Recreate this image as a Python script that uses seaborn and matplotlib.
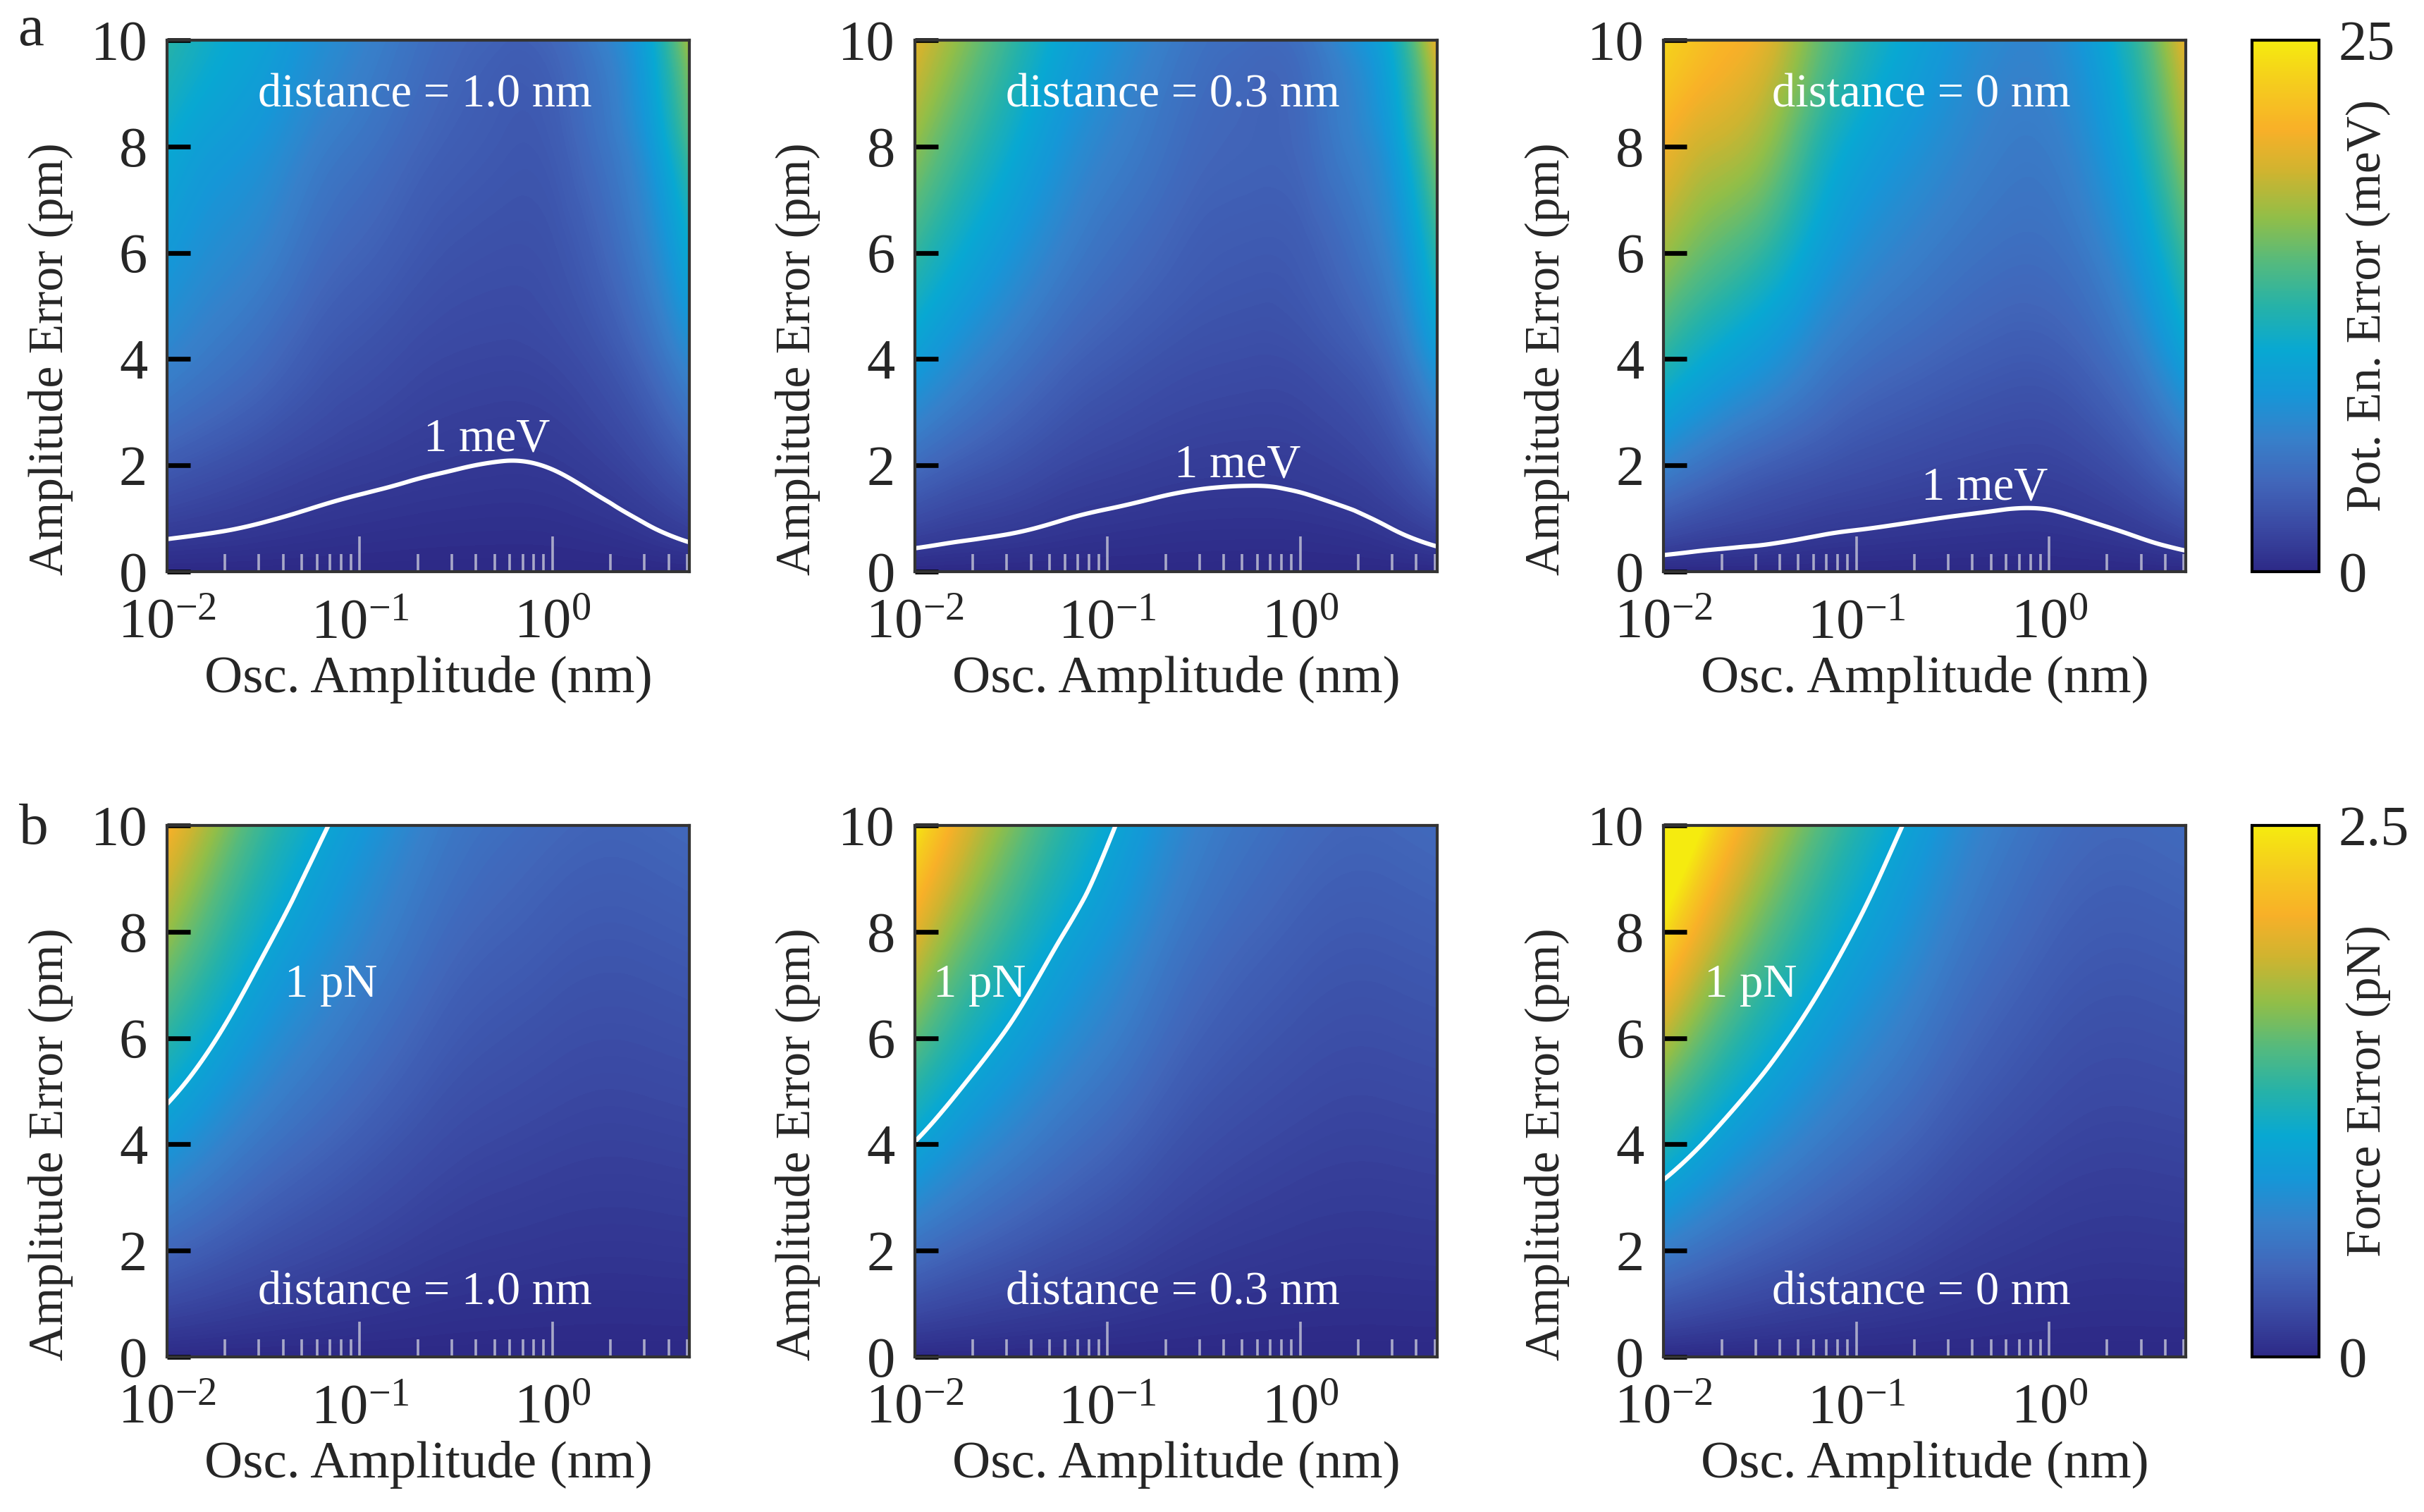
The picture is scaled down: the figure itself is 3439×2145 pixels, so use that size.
import numpy as np
import matplotlib
matplotlib.use("Agg")
import matplotlib.pyplot as plt
import matplotlib.tri as mtri
from matplotlib.ticker import LogLocator, LogFormatterMathtext, NullFormatter
import seaborn as sns

sns.set_theme(style="ticks")
plt.rcParams['font.family'] = ['Liberation Serif', 'DejaVu Serif']
plt.rcParams['mathtext.fontset'] = 'custom'
plt.rcParams['mathtext.rm'] = 'Liberation Serif'
plt.rcParams['mathtext.it'] = 'Liberation Serif:italic'
plt.rcParams['axes.unicode_minus'] = False

# sample grid
osc_amp_nm = [0.01, 0.0178, 0.0316, 0.0562, 0.1, 0.178, 0.316, 0.562, 1.0, 1.78, 3.16, 5.13]
amp_err_pm = [0, 1, 2, 4, 6, 8, 10]

# potential energy error (meV), rows = amp_err_pm, cols = osc_amp_nm
energy_d10 = [
    [0] * 12,
    [1.64, 1.35, 1.075, 0.847, 0.694, 0.588, 0.518, 0.481, 0.521, 0.714, 1.15, 1.79],
    [3.4, 2.75, 2.18, 1.7, 1.39, 1.18, 1.04, 0.96, 1.04, 1.43, 2.28, 3.5],
    [6.6, 5.5, 4.5, 3.4, 2.75, 2.25, 1.95, 1.85, 2.05, 2.8, 4.5, 7.0],
    [8.7, 7.4, 6.4, 4.9, 4.0, 3.3, 2.8, 2.6, 2.8, 4.0, 6.5, 10.4],
    [10.5, 9.0, 8.0, 6.4, 5.3, 4.3, 3.6, 3.2, 3.4, 5.1, 8.3, 13.8],
    [12.5, 10.8, 9.6, 7.9, 6.6, 5.3, 4.3, 3.8, 4.2, 6.2, 10.0, 17.2],
]
energy_d03 = [
    [0] * 12,
    [2.27, 1.72, 1.39, 1.05, 0.85, 0.72, 0.64, 0.617, 0.66, 0.83, 1.32, 2.13],
    [4.6, 3.5, 2.78, 2.1, 1.7, 1.44, 1.28, 1.23, 1.32, 1.66, 2.6, 4.3],
    [9.2, 7.1, 5.5, 4.2, 3.4, 2.85, 2.5, 2.35, 2.5, 3.2, 5.0, 8.6],
    [13.0, 10.4, 8.2, 6.3, 5.0, 4.15, 3.5, 3.3, 3.5, 4.7, 7.2, 12.6],
    [16.5, 13.4, 10.7, 8.2, 6.5, 5.3, 4.3, 4.0, 4.3, 6.1, 9.3, 16.4],
    [19.5, 16.2, 13.0, 10.1, 8.0, 6.4, 5.1, 4.6, 5.0, 7.5, 11.5, 20.0],
]
energy_d00 = [
    [0] * 12,
    [3.2, 2.4, 1.92, 1.54, 1.28, 1.1, 0.96, 0.86, 0.855, 1.11, 1.67, 2.5],
    [6.5, 4.9, 3.8, 3.1, 2.56, 2.2, 1.92, 1.72, 1.71, 2.2, 3.3, 4.9],
    [12.5, 10.2, 8.5, 6.6, 5.1, 4.35, 3.8, 3.4, 3.4, 4.3, 6.4, 9.5],
    [17.0, 14.8, 13.0, 10.0, 7.6, 6.4, 5.5, 4.9, 4.9, 6.2, 9.2, 13.5],
    [20.5, 18.5, 17.0, 13.2, 10.0, 8.3, 7.0, 6.0, 6.0, 7.9, 11.8, 17.0],
    [23.5, 21.5, 20.0, 16.0, 12.5, 10.2, 8.3, 7.0, 7.0, 9.5, 14.0, 20.0],
]

# force error (pN)
force_d10 = [
    [0] * 12,
    [0.21, 0.168, 0.1325, 0.1075, 0.087, 0.069, 0.055, 0.048, 0.043, 0.040, 0.041, 0.043],
    [0.42, 0.336, 0.265, 0.215, 0.174, 0.138, 0.11, 0.096, 0.086, 0.08, 0.082, 0.086],
    [0.84, 0.672, 0.53, 0.43, 0.348, 0.276, 0.22, 0.192, 0.172, 0.16, 0.164, 0.172],
    [1.26, 1.008, 0.795, 0.645, 0.522, 0.414, 0.33, 0.288, 0.258, 0.24, 0.246, 0.258],
    [1.68, 1.344, 1.06, 0.86, 0.696, 0.552, 0.44, 0.384, 0.344, 0.32, 0.328, 0.344],
    [2.1, 1.68, 1.325, 1.075, 0.87, 0.69, 0.55, 0.48, 0.43, 0.40, 0.41, 0.43],
]
force_d03 = [
    [0] * 12,
    [0.247, 0.196, 0.159, 0.128, 0.104, 0.08, 0.062, 0.052, 0.045, 0.041, 0.042, 0.044],
    [0.494, 0.392, 0.318, 0.256, 0.208, 0.16, 0.124, 0.104, 0.09, 0.082, 0.084, 0.088],
    [0.988, 0.784, 0.636, 0.512, 0.416, 0.32, 0.248, 0.208, 0.18, 0.164, 0.168, 0.176],
    [1.482, 1.176, 0.954, 0.768, 0.624, 0.48, 0.372, 0.312, 0.27, 0.246, 0.252, 0.264],
    [1.976, 1.568, 1.272, 1.024, 0.832, 0.64, 0.496, 0.416, 0.36, 0.328, 0.336, 0.352],
    [2.47, 1.96, 1.59, 1.28, 1.04, 0.8, 0.62, 0.52, 0.45, 0.41, 0.42, 0.44],
]
force_d00 = [
    [0] * 12,
    [0.30, 0.238, 0.19, 0.153, 0.123, 0.099, 0.076, 0.06, 0.049, 0.043, 0.043, 0.045],
    [0.6, 0.476, 0.38, 0.306, 0.246, 0.198, 0.152, 0.12, 0.098, 0.086, 0.086, 0.09],
    [1.2, 0.952, 0.76, 0.612, 0.492, 0.396, 0.304, 0.24, 0.196, 0.172, 0.172, 0.18],
    [1.8, 1.428, 1.14, 0.918, 0.738, 0.594, 0.456, 0.36, 0.294, 0.258, 0.258, 0.27],
    [2.4, 1.904, 1.52, 1.224, 0.984, 0.792, 0.608, 0.48, 0.392, 0.344, 0.344, 0.36],
    [3.0, 2.38, 1.9, 1.53, 1.23, 0.99, 0.76, 0.6, 0.49, 0.43, 0.43, 0.45],
]

distances = ["1.0", "0.3", "0"]
energy_max = 25
force_max = 2.5

# parula-ish colours as they look in the original colorbar
cbar_colors = [
    (45, 42, 135), (58, 73, 163), (65, 102, 186), (55, 128, 202),
    (22, 150, 215), (8, 168, 210), (38, 178, 168), (85, 186, 125),
    (145, 190, 72), (205, 180, 48), (248, 176, 40), (245, 203, 30),
    (245, 235, 15),
]
cmap = sns.blend_palette([tuple(c / 255 for c in rgb) for rgb in cbar_colors],
                         n_colors=256, as_cmap=True)

TICK_FS = 29
XLABEL_FS = 27
YLABEL_FS = 25
NOTE_FS = 24
XSTRETCH = 4  # decades -> mesh units, keeps triangles roughly square


def heat_panel(ax, grid, vmax, tag, tag_pos, dist, dist_y):
    lx, ly = np.meshgrid(np.log10(osc_amp_nm) * XSTRETCH, amp_err_pm)
    z = np.asarray(grid, dtype=float).ravel()
    tri = mtri.Triangulation(lx.ravel(), ly.ravel())
    interp = mtri.CubicTriInterpolator(tri, z, kind='min_E')
    fine, zf = mtri.UniformTriRefiner(tri).refine_field(z, interp, subdiv=4)
    fine = mtri.Triangulation(10 ** (fine.x / XSTRETCH), fine.y, fine.triangles)
    ax.tricontourf(fine, zf, levels=np.linspace(0, vmax, 200), cmap=cmap,
                   extend='both', antialiased=False, zorder=0.5)
    ax.tricontour(fine, zf, levels=[1], colors='white', linewidths=2.2, zorder=0.6)

    ax.set_xscale('log')
    ax.set_xlim(0.01, 5.13)
    ax.set_ylim(0, 10)
    ax.set_yticks([0, 2, 4, 6, 8, 10])
    ax.xaxis.set_major_locator(LogLocator(base=10, numticks=10))
    ax.xaxis.set_minor_locator(LogLocator(base=10, subs=np.arange(2, 10), numticks=30))
    ax.xaxis.set_major_formatter(LogFormatterMathtext())
    ax.xaxis.set_minor_formatter(NullFormatter())
    ax.tick_params(axis='x', which='major', direction='in', length=18, width=1.3,
                   color='#a8a8c8', labelsize=TICK_FS, pad=14, top=False)
    ax.tick_params(axis='x', which='minor', direction='in', length=9, width=1.3,
                   color='#a8a8c8', top=False)
    ax.tick_params(axis='y', which='major', direction='in', length=12, width=2.4,
                   color='black', labelsize=TICK_FS, pad=10, left=True, right=False)
    ax.tick_params(axis='y', which='minor', left=False, right=False)
    ax.xaxis.set_zorder(4)
    ax.yaxis.set_zorder(4)
    for s in ax.spines.values():
        s.set_color('#333333')
        s.set_linewidth(1.5)
        s.set_zorder(5)

    ax.set_xlabel('Osc. Amplitude (nm)', fontsize=XLABEL_FS)
    ax.set_ylabel('Amplitude Error (pm)', fontsize=YLABEL_FS)
    ax.xaxis.set_label_coords(0.5, -0.158)
    ax.yaxis.set_label_coords(-0.18, 0.40)

    ax.text(0.494, dist_y, f'distance = {dist} nm', transform=ax.get_yaxis_transform(),
            color='white', fontsize=NOTE_FS, ha='center', va='center')
    ax.text(tag_pos[0], tag_pos[1], tag, transform=ax.get_yaxis_transform(),
            color='white', fontsize=NOTE_FS, ha='center', va='center')


def add_cbar(fig, rect, vmax, label):
    cax = fig.add_axes(rect)
    sm = plt.cm.ScalarMappable(cmap=cmap, norm=plt.Normalize(0, vmax))
    cb = fig.colorbar(sm, cax=cax)
    cb.set_ticks([0, vmax])
    cb.set_ticklabels(['0', f'{vmax:g}'])
    cb.ax.tick_params(length=0, labelsize=TICK_FS, pad=10)
    cb.outline.set_linewidth(1.5)
    cb.outline.set_edgecolor('black')
    cax.text(1.74, 0.5, label, transform=cax.transAxes, rotation=90,
             ha='center', va='center', fontsize=25)


fig = plt.figure(figsize=(17.195, 10.725), dpi=200)

lefts = [0.0689, 0.3774, 0.6863]
width = 0.2155
height = 0.3515
row_a, row_b = 0.6219, 0.1026

meV_pos = [(0.612, 2.5), (0.618, 2.0), (0.614, 1.58)]
pN_pos = [(0.314, 7.0), (0.124, 7.0), (0.167, 7.0)]

for i, grid in enumerate([energy_d10, energy_d03, energy_d00]):
    ax = fig.add_axes([lefts[i], row_a, width, height])
    heat_panel(ax, grid, energy_max, '1 meV', meV_pos[i], distances[i], 8.96)

for i, grid in enumerate([force_d10, force_d03, force_d00]):
    ax = fig.add_axes([lefts[i], row_b, width, height])
    heat_panel(ax, grid, force_max, '1 pN', pN_pos[i], distances[i], 1.2)

add_cbar(fig, [0.9291, row_a, 0.0276, height], energy_max, 'Pot. En. Error (meV)')
add_cbar(fig, [0.9291, row_b, 0.0276, height], force_max, 'Force Error (pN)')

fig.text(0.0128, 0.9795, 'a', fontsize=30, ha='center', va='center')
fig.text(0.014, 0.451, 'b', fontsize=30, ha='center', va='center')

fig.savefig('out.png', dpi=200)
